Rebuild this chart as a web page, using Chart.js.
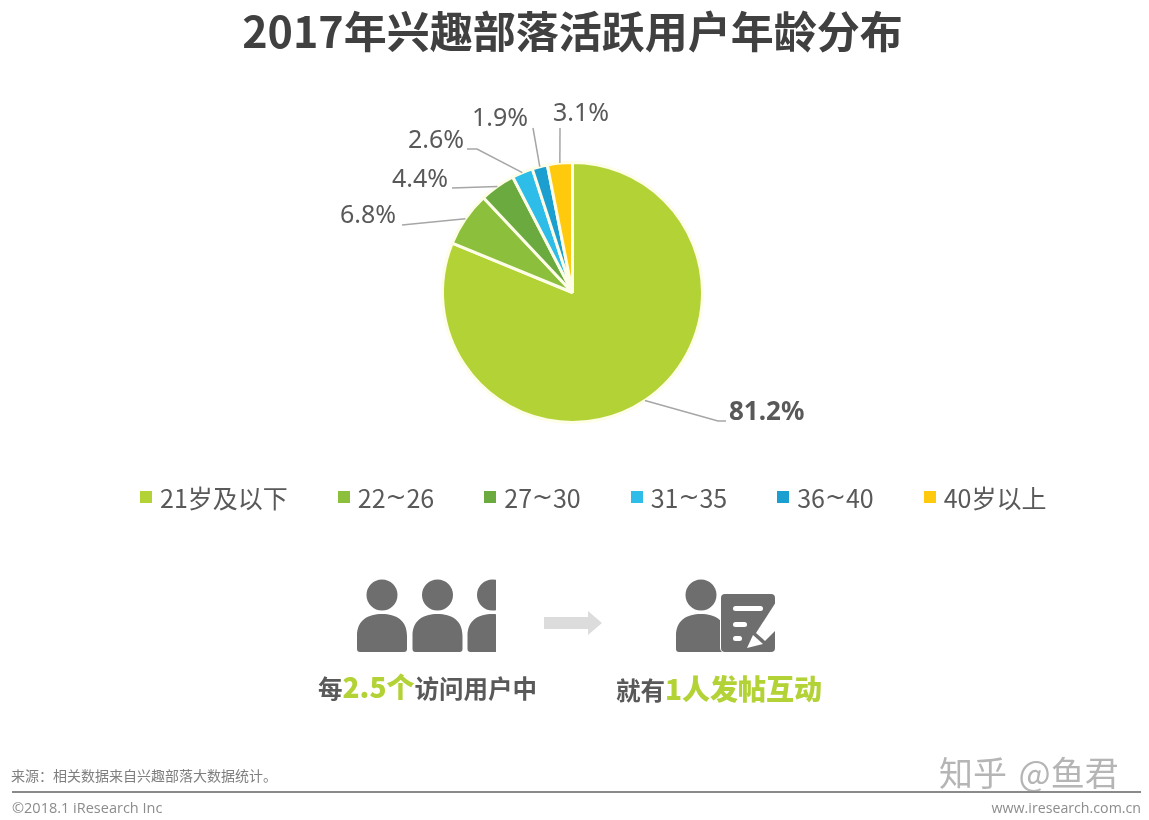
<!DOCTYPE html>
<html lang="zh">
<head>
<meta charset="utf-8">
<title>2017年兴趣部落活跃用户年龄分布</title>
<script src="https://cdn.jsdelivr.net/npm/chart.js@4"></script>
<style>
  html, body { margin: 0; padding: 0; background: #fff; }
  #page { position: relative; width: 1149px; height: 820px; overflow: hidden;
    font-family: "Noto Sans CJK SC", "Noto Sans", sans-serif; color: #595959; }
  #page canvas { position: absolute; left: 0; top: 0; }
  .abs { position: absolute; white-space: nowrap; line-height: 1; }
  #title { left: 0; top: 8px; width: 1145px; text-align: center; font-size: 43px; font-weight: 700; color: #404040; }
  #legend { position: absolute; left: 140px; top: 482px; display: flex; gap: 50px; font-size: 25px; line-height: 30px; color: #595959; }
  #legend div { display: flex; align-items: center; white-space: nowrap; }
  #legend i { width: 12px; height: 12px; margin-right: 8px; display: block; }
  #legend span { font-family: "DejaVu Sans", sans-serif; }
  .cap { font-size: 24.5px; font-weight: 700; color: #595959; }
  .cap b { color: #b2d235; font-size: 28px; }
  #source { left: 11px; top: 768px; font-size: 14px; color: #7f7f7f; }
  #rule { position: absolute; left: 12px; top: 791px; width: 1129px; height: 2px; background: #8a8a8a; }
  #copy { left: 12px; top: 801px; font-size: 14.5px; color: #8c8c8c; font-family: "Open Sans", sans-serif; }
  #site { right: 8px; top: 801px; font-size: 14.2px; color: #8c8c8c; font-family: "Open Sans", sans-serif; }
  #mark { left: 939px; top: 755px; font-size: 34px; word-spacing: 4px; color: #b5b5b5; }
  svg { position: absolute; left: 0; top: 0; }
</style>
</head>
<body>
<div id="page">
  <canvas id="pie" width="1149" height="820"></canvas>
  <svg width="1149" height="820" fill="#6e6e6e">
    <defs>
      <clipPath id="cut"><rect x="340" y="570" width="156" height="90"/></clipPath>
      <g id="person">
        <circle cx="0" cy="0" r="15.5"/>
        <path d="M-25 57V41C-25 25 -14 19 0 19S25 25 25 41V54Q25 57 22 57H-22Q-25 57 -25 54Z"/>
      </g>
    </defs>
    <g clip-path="url(#cut)">
      <use href="#person" x="382" y="595"/>
      <use href="#person" x="437.500" y="595"/>
      <use href="#person" x="492.500" y="595"/>
    </g>
    <path fill="#dcdcdc" d="M544 617H588V611L602 623L588 635V629H544Z"/>
    <use href="#person" x="701" y="595"/>
    <rect x="720" y="593" width="56" height="60" rx="5" fill="#fff"/>
    <rect x="721" y="594" width="54" height="58" rx="4"/>
    <g fill="#fff">
      <rect x="733" y="606" width="30" height="5" rx="2.500"/>
      <rect x="733" y="622" width="14" height="5" rx="2.500"/>
      <rect x="733" y="636" width="9" height="5" rx="2.500"/>
      <path d="M776 602L756 633L765 641L776 630Z"/>
      <path d="M753 635L763 644L747 648Z"/>
    </g>
  </svg>
  <div class="abs" id="title">2017年兴趣部落活跃用户年龄分布</div>
  <div id="legend"></div>
  <div class="abs cap" style="left:318px;top:672px">每<b>2.5个</b>访问用户中</div>
  <div class="abs cap" style="left:616px;top:674px">就有<b>1人发帖互动</b></div>
  <div class="abs" id="source">来源：相关数据来自兴趣部落大数据统计。</div>
  <div class="abs" id="mark">知乎 @鱼君</div>
  <div id="rule"></div>
  <div class="abs" id="copy">©2018.1 iResearch Inc</div>
  <div class="abs" id="site">www.iresearch.com.cn</div>
</div>
<script>
const ageGroups = ['21岁及以下', '22~26', '27~30', '31~35', '36~40', '40岁以上'];
const shares = [81.2, 6.8, 4.4, 2.6, 1.9, 3.1];
const sliceColors = ['#b2d235', '#8bbf3c', '#6aaa3f', '#2dbde8', '#1a9fd0', '#ffc90e'];

// leader line bends and label anchors, same order as the slices
const leaders = [
  { via: [[718, 421], [726, 421]], text: [729, 413], align: 'left', bold: true },
  { via: [[402, 225]], text: [396, 216], align: 'right' },
  { via: [[452, 188]], text: [448, 180], align: 'right' },
  { via: [[477, 149], [467, 149]], text: [464, 141], align: 'right' },
  { via: [[533, 128]], text: [528, 119], align: 'right' },
  { via: [[560, 128]], text: [553, 114], align: 'left' }
];

const legendBox = document.getElementById('legend');
ageGroups.forEach((name, i) => {
  const item = document.createElement('div');
  // the tilde is much wider in the reference than in the CJK font
  item.innerHTML = `<i style="background:${sliceColors[i]}"></i>${name.replace('~', '<span>~</span>')}`;
  legendBox.appendChild(item);
});

// Leader lines and percent labels around the pie
const leaderLabels = {
  id: 'leaderLabels',
  afterDatasetsDraw(chart) {
    const ctx = chart.ctx;
    chart.getDatasetMeta(0).data.forEach((arc, i) => {
      const { x, y, startAngle, endAngle, outerRadius } = arc.getProps(['x', 'y', 'startAngle', 'endAngle', 'outerRadius'], true);
      const mid = (startAngle + endAngle) / 2;
      const leader = leaders[i];
      ctx.save();
      ctx.strokeStyle = '#a6a6a6';
      ctx.lineWidth = 1.5;
      ctx.beginPath();
      ctx.moveTo(x + Math.cos(mid) * outerRadius, y + Math.sin(mid) * outerRadius);
      leader.via.forEach(p => ctx.lineTo(p[0], p[1]));
      ctx.stroke();
      ctx.fillStyle = '#595959';
      ctx.font = (leader.bold ? '700 26px' : '25px') + ' "Noto Sans", sans-serif';
      ctx.textAlign = leader.align;
      ctx.textBaseline = 'middle';
      ctx.fillText(shares[i].toFixed(1) + '%', leader.text[0], leader.text[1]);
      ctx.restore();
    });
  }
};

new Chart(document.getElementById('pie'), {
  type: 'pie',
  data: {
    labels: ageGroups,
    datasets: [{
      data: shares,
      backgroundColor: sliceColors,
      borderColor: '#fdfde8',
      borderWidth: 3
    }]
  },
  options: {
    responsive: false,
    animation: false,
    layout: { padding: { left: 441, right: 445, top: 161, bottom: 396 } },
    plugins: { legend: { display: false }, tooltip: { enabled: false } }
  },
  plugins: [leaderLabels]
});
</script>
</body>
</html>
